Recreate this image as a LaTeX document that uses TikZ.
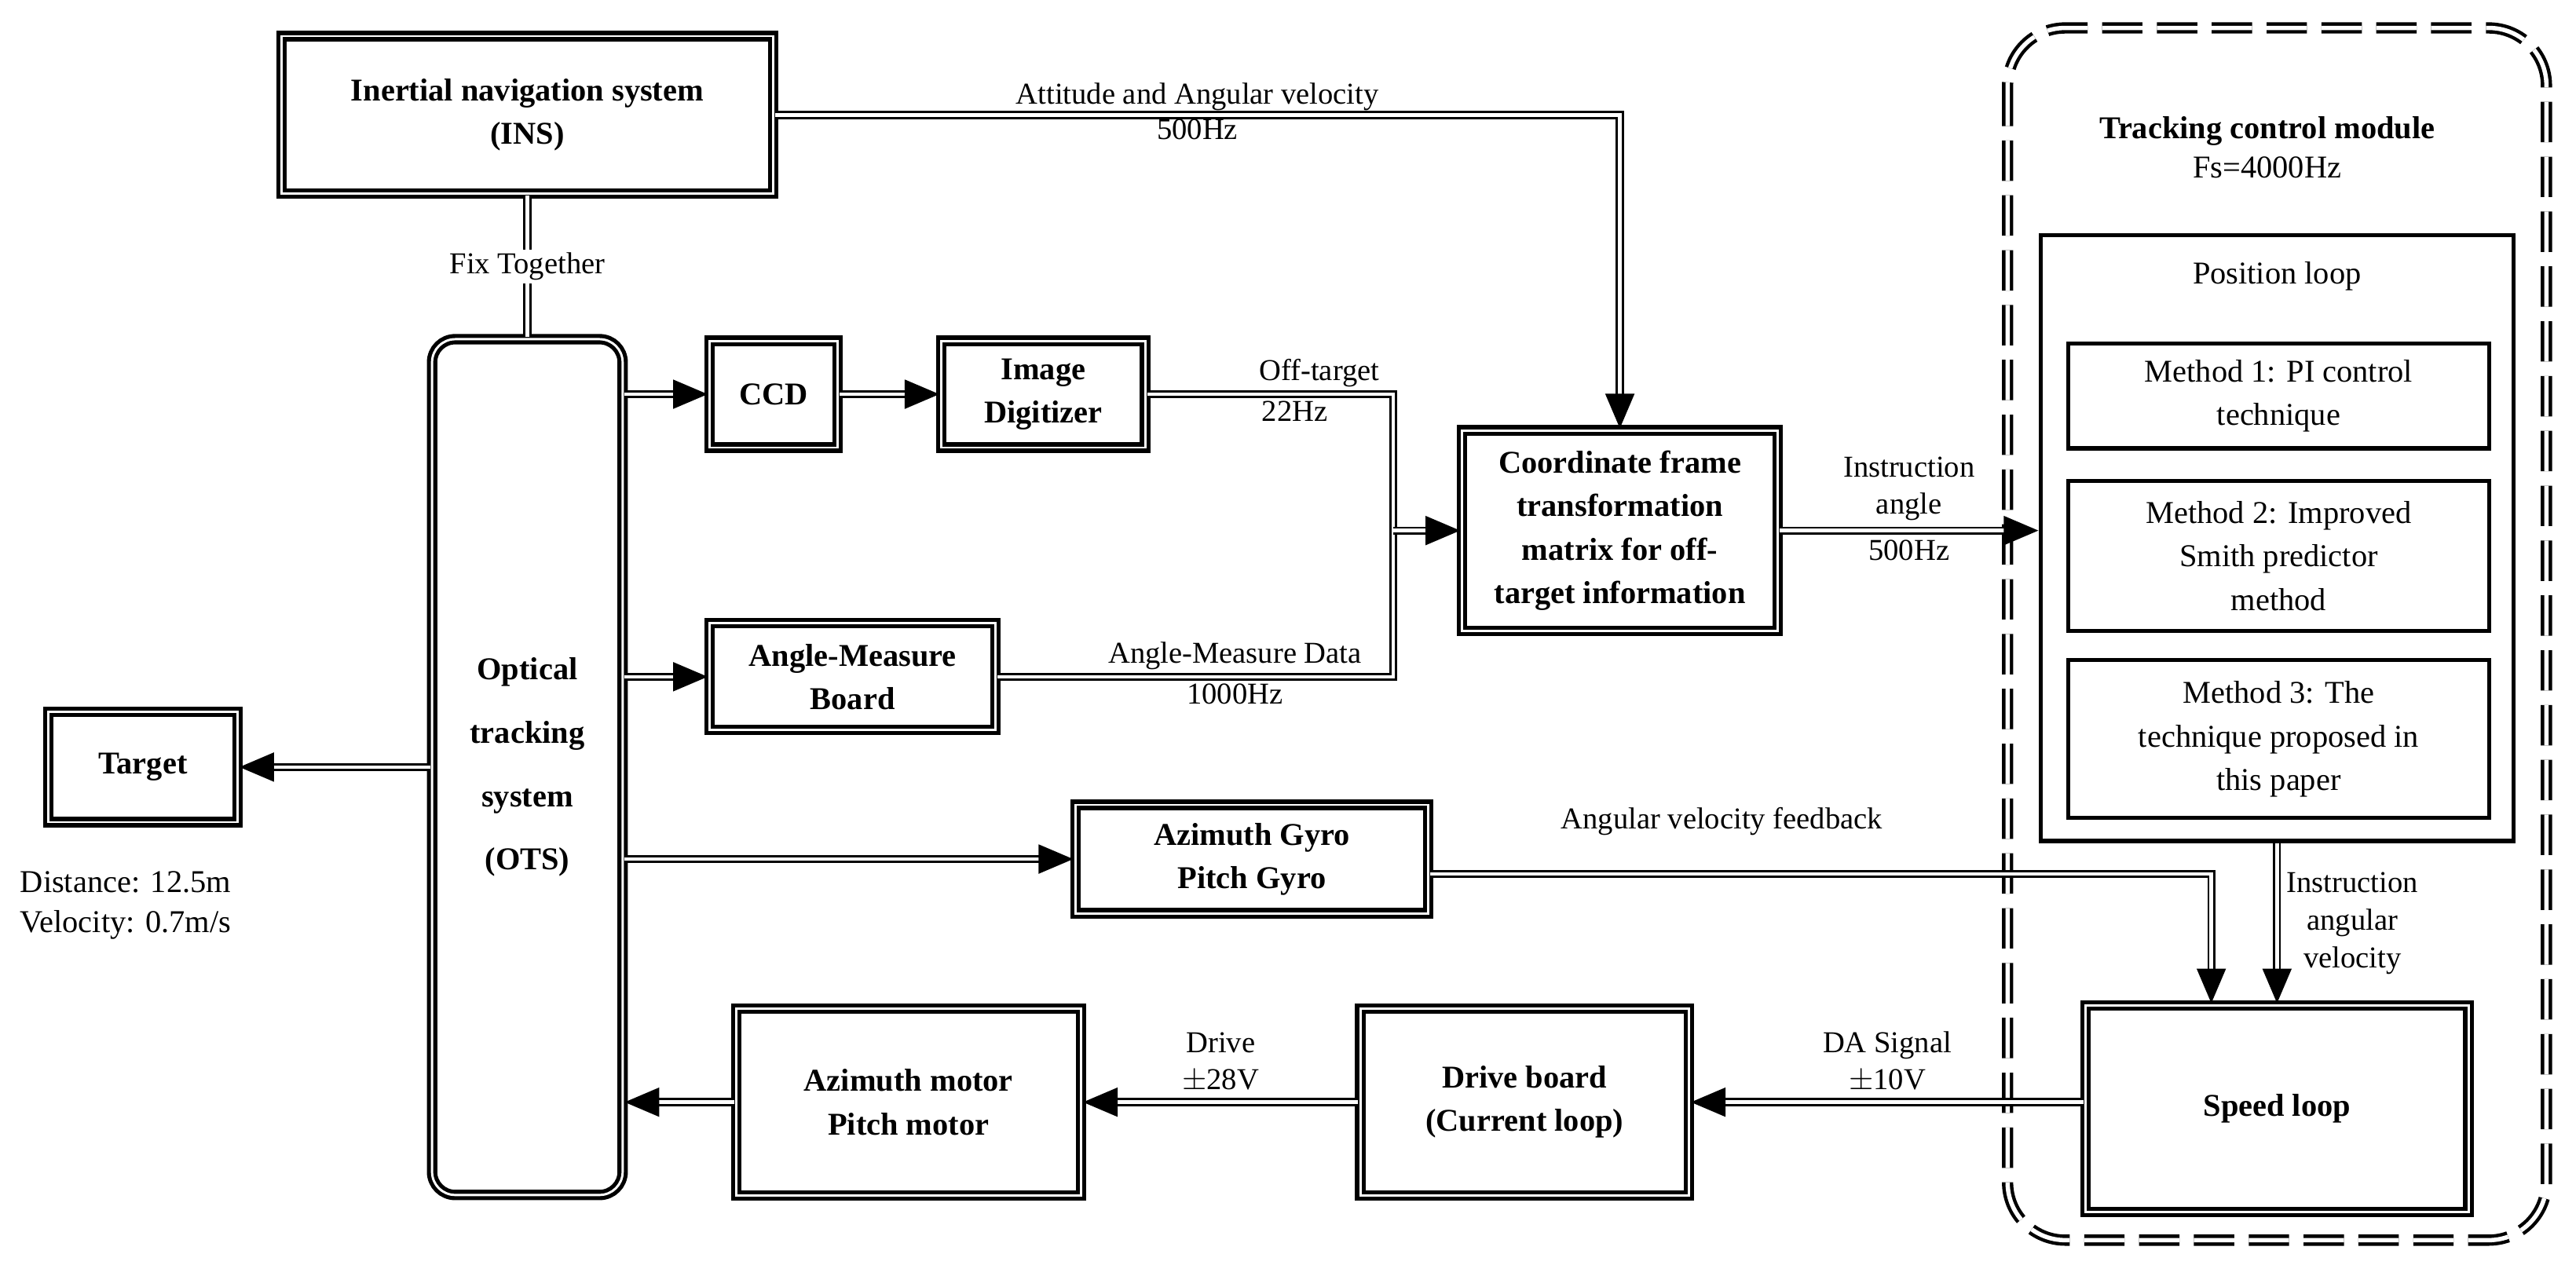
\documentclass[tikz,border=0pt]{standalone}
\usepackage{fontspec}
\setmainfont{Liberation Serif}
\usetikzlibrary{arrows.meta}
\begin{document}
\begin{tikzpicture}[x=0.02cm, y=-0.02cm, font=\fontsize{11}{15}\selectfont]

  \tikzstyle{block} = [rectangle, draw, double, line width=1.4pt, double distance=0.8pt, align=center, font=\fontsize{11}{15}\selectfont\bfseries, inner sep=0pt]
  \tikzstyle{method} = [rectangle, draw, line width=1.4pt, align=center, inner sep=0pt, minimum width=256*0.02cm]
  \tikzstyle{wire} = [draw, double, line width=0.8pt, double distance=1.2pt]
  \tikzstyle{arrow} = [wire, -{Triangle[length=12pt, width=10pt]}]
  \tikzstyle{lbl} = [align=center, inner sep=1pt, font=\fontsize{10.5}{13}\selectfont]

  \useasboundingbox (0,0) rectangle (1568,770);

  % boxes
  \node [block, minimum width=299*0.02cm, minimum height=96*0.02cm] (ins) at (321,70) {Inertial navigation system\\(INS)};
  \node [block, rounded corners=8pt, minimum width=116*0.02cm, minimum height=521*0.02cm, font=\fontsize{11}{22}\selectfont\bfseries] (ots) at (321,467) {Optical\\tracking\\system\\(OTS)};
  \node [block, minimum width=78*0.02cm, minimum height=65*0.02cm] (ccd) at (471,240) {CCD};
  \node [block, minimum width=124*0.02cm, minimum height=65*0.02cm] (digit) at (635,240) {Image\\Digitizer};
  \node [block, minimum width=174*0.02cm, minimum height=65*0.02cm] (angle) at (519,412) {Angle-Measure\\Board};
  \node [block, minimum width=192*0.02cm, minimum height=122*0.02cm] (coord) at (986,323) {Coordinate frame\\transformation\\matrix for off-\\target information};
  \node [block, minimum width=115*0.02cm, minimum height=67*0.02cm] (target) at (87,467) {Target};
  \node [block, minimum width=215*0.02cm, minimum height=66*0.02cm] (gyro) at (762,523) {Azimuth Gyro\\Pitch Gyro};
  \node [block, minimum width=210*0.02cm, minimum height=114*0.02cm] (motor) at (553,671) {Azimuth motor\\Pitch motor};
  \node [block, minimum width=200*0.02cm, minimum height=114*0.02cm] (drive) at (928,671) {Drive board\\(Current loop)};
  \node [block, minimum width=233*0.02cm, minimum height=126*0.02cm] (speed) at (1386,675) {Speed loop};

  % tracking control module
  \draw [double, line width=1.2pt, double distance=1.5pt, dash pattern=on 14pt off 5pt, rounded corners=20pt] (1222,17) rectangle (1550,755);
  \node [font=\fontsize{11}{15}\selectfont\bfseries] (tcm) at (1380,80) {Tracking control module};
  \node (fs) at (1380,102) {Fs=4000Hz};
  \node [draw, line width=1.4pt, minimum width=288*0.02cm, minimum height=369*0.02cm] (pos) at (1386,327.5) {};
  \node (postitle) at (1386,168) {Position loop};
  \node [method, minimum height=64*0.02cm] (m1) at (1387,241) {Method 1: PI control\\technique};
  \node [method, minimum height=91*0.02cm] (m2) at (1387,338.5) {Method 2: Improved\\Smith predictor\\method};
  \node [method, minimum height=96*0.02cm] (m3) at (1387,450) {Method 3: The\\technique proposed in\\this paper};

  % connectors
  \path [arrow] (ins.east) -| (coord.north) node [lbl, pos=0.25, above] {Attitude and Angular velocity} node [lbl, pos=0.25, below] {500Hz};
  \path [wire] (ins.south) -- (ots.north) node [midway, fill=white, lbl] {Fix Together};
  \coordinate (ccdout) at (ots.east |- ccd);
  \coordinate (angout) at (ots.east |- angle);
  \coordinate (gyroout) at (ots.east |- gyro);
  \coordinate (join) at (848,323);
  \path [arrow] (ccdout) -- (ccd);
  \path [arrow] (ccd) -- (digit);
  \path [wire] (digit.east) -| (join) node [lbl, pos=0.35, above=1pt] {Off-target} node [lbl, pos=0.3, below=1pt] {22Hz};
  \path [wire] (angle.east) -| (join) node [lbl, pos=0.3, above=1pt] {Angle-Measure Data} node [lbl, pos=0.3, below=1pt] {1000Hz};
  \path [arrow] (join) -- (coord.west);
  \path [arrow] (angout) -- (angle);
  \path [arrow] (gyroout) -- (gyro);
  \path [arrow] (coord.east) -- (pos.west |- coord) node [lbl, midway, above=2pt] {Instruction\\angle} node [lbl, midway, below=2pt] {500Hz};
  \coordinate (fb) at (1346,532);
  \path [arrow] (gyro.east |- fb) -| (speed.north -| fb);
  \node [lbl] (fblbl) at (1048,500) {Angular velocity feedback};
  \path [arrow] (pos.south) -- (speed.north) node [lbl, midway, right=2pt] {Instruction\\angular\\velocity};
  \path [arrow] (speed.west |- drive) -- (drive.east) node [lbl, midway, above=2pt] {DA Signal\\$\pm$10V};
  \path [arrow] (drive) -- (motor) node [lbl, midway, above=2pt] {Drive\\$\pm$28V};
  \path [arrow] (motor) -- (ots.east |- motor);
  \path [arrow] (ots.west |- target) -- (target);
  \node [align=left, anchor=north west, inner sep=0pt, font=\fontsize{11}{14}\selectfont] (dist) at (12,530) {Distance: 12.5m\\Velocity: 0.7m/s};

\end{tikzpicture}
\end{document}
